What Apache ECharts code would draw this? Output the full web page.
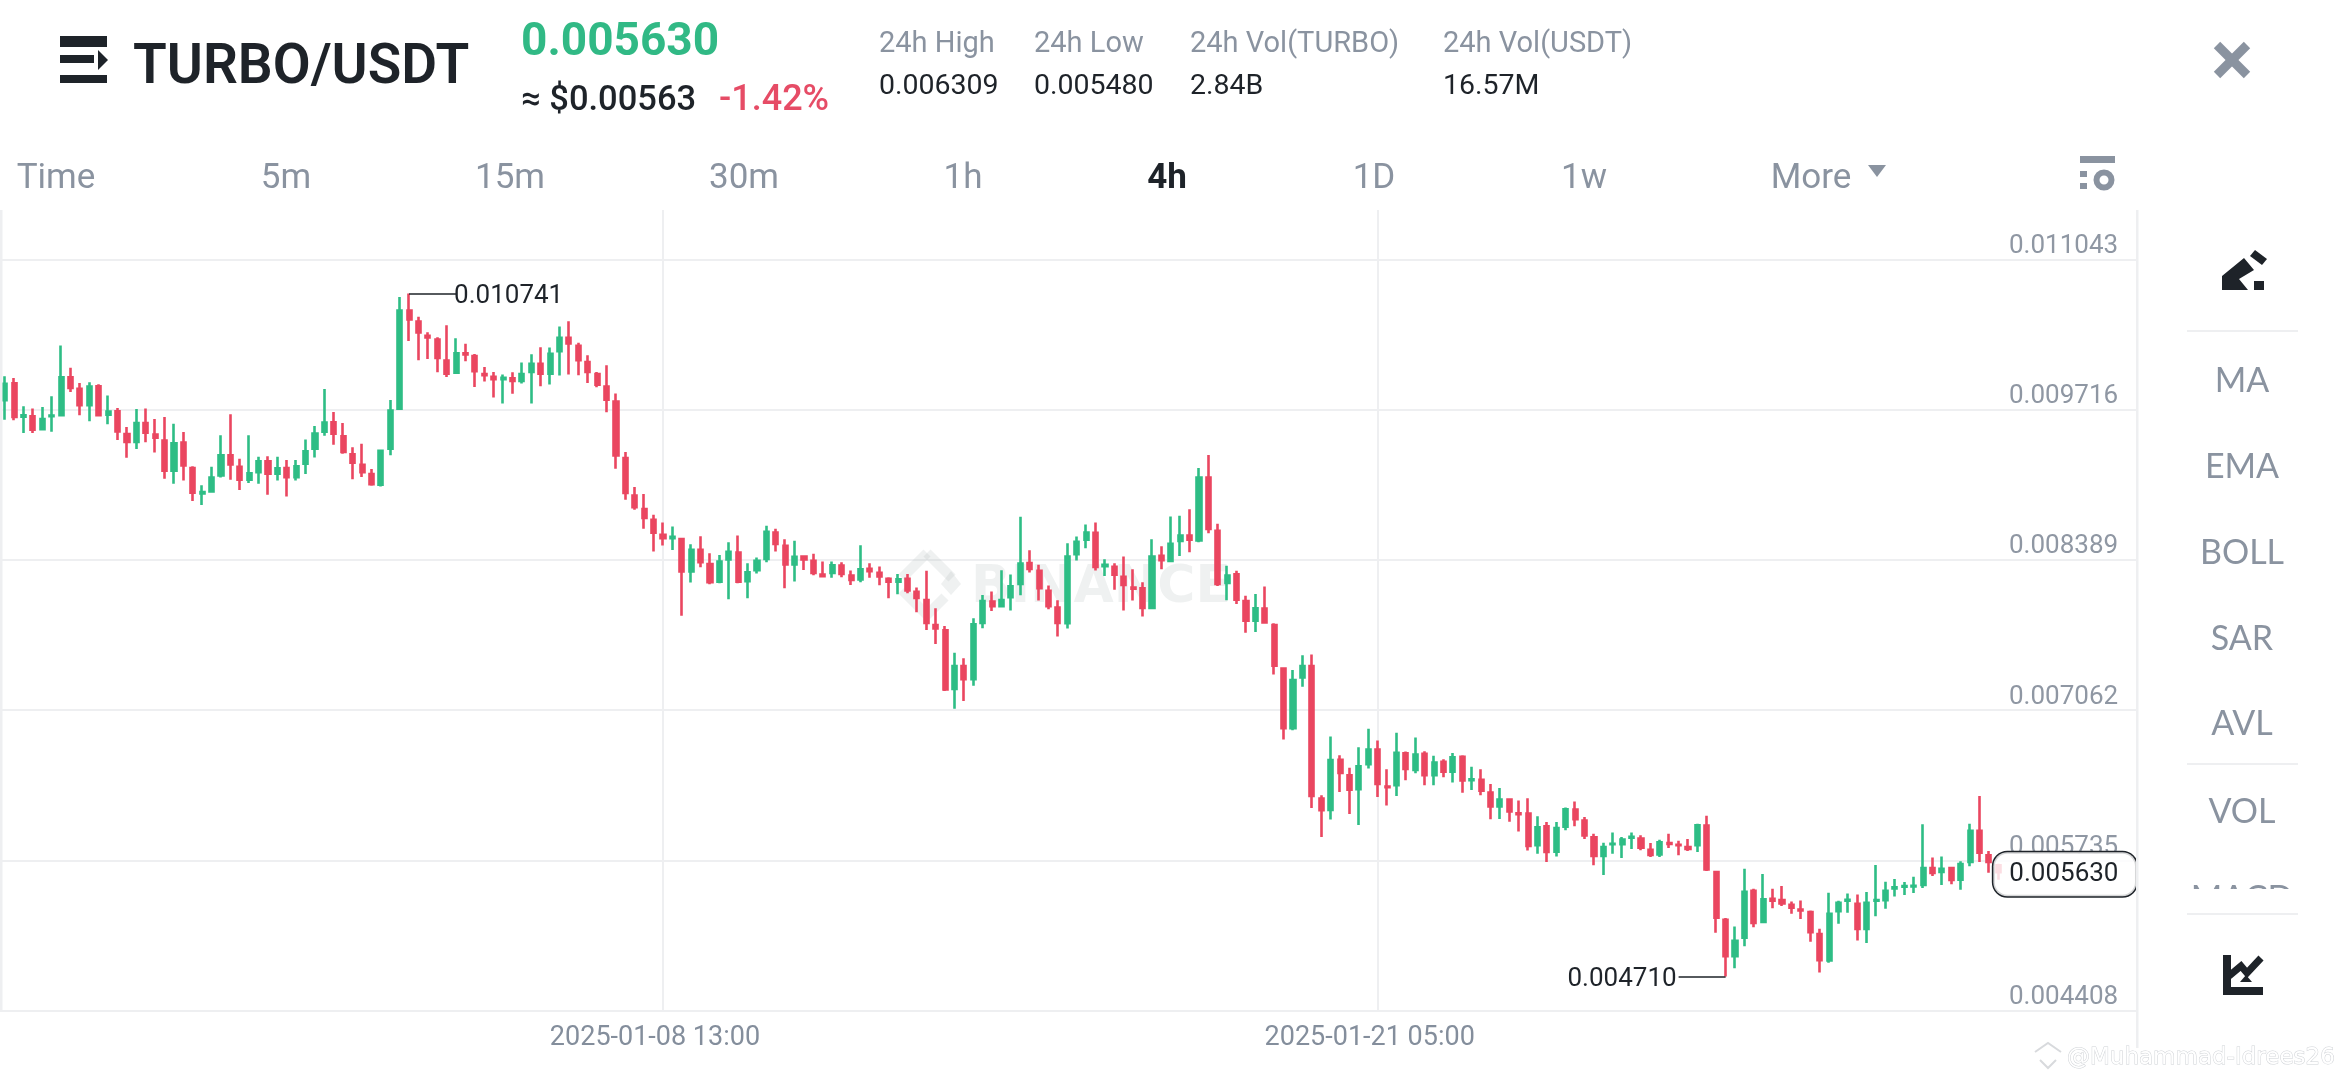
<!DOCTYPE html>
<html>
<head>
<meta charset="utf-8">
<title>TURBO/USDT</title>
<script src="https://cdn.jsdelivr.net/npm/echarts@6/dist/echarts.min.js"></script>
<style>
html, body { margin: 0; padding: 0; background: #fff; }
#main { width: 2340px; height: 1080px; }
</style>
</head>
<body>
<div id="main"></div>
<script>
// prices are kept in millionths of a USDT, 4h candles, oldest first
var opens = [
9799,9949,9654,9657,9542,9657,9666,10002,9899,9754,
9922,9672,9701,9501,9430,9598,9495,9442,9176,9424,
9200,8976,8993,9135,9312,9212,9097,9164,9259,9150,
9200,9120,9238,9371,9521,9604,9480,9321,9229,9147,
9052,9371,9725,10592,10494,10368,10335,10149,10043,10214,
10188,10031,10005,9984,9993,9970,10049,10120,10034,10232,
10350,10279,10135,10031,9919,9787,9288,8958,8837,8743,
8610,8581,8572,8286,8477,8351,8197,8392,8454,8200,
8298,8398,8631,8513,8348,8418,8380,8259,8274,8339,
8250,8215,8309,8274,8221,8197,8221,8106,8035,7814,
7767,7248,7451,7336,7832,8020,7979,8059,8177,8360,
8292,8115,7967,7829,8439,8566,8628,8333,8327,8239,
8144,8138,7964,8424,8380,8557,8604,8560,9117,8646,
8186,8262,8026,7852,7958,7814,7428,6903,7351,7451,
6280,6180,6623,6487,6363,6584,6714,6387,6398,6681,
6534,6676,6487,6605,6519,6649,6443,6446,6334,6210,
6272,6151,6148,5868,6036,5812,6033,6183,6086,5938,
5773,5877,5877,5936,5927,5829,5788,5888,5873,5853,
5868,6042,5632,5210,4888,5051,5467,5192,5396,5384,
5343,5301,5278,5083,4850,5287,5378,5352,5130,5378,
5384,5487,5502,5505,5517,5667,5632,5667,5564,5720,
5997,5779,5691];
var closes = [
9943,9651,9666,9539,9633,9663,10002,9908,9754,9919,
9666,9698,9524,9430,9598,9512,9468,9176,9418,9223,
8982,8988,9117,9312,9232,9097,9153,9259,9150,9197,
9120,9215,9347,9504,9601,9504,9341,9247,9164,9058,
9353,9707,10592,10512,10397,10353,10173,10034,10214,10203,
10055,10020,9984,9996,9970,10031,10120,10034,10208,10350,
10300,10152,10049,9937,9804,9312,8979,8855,8760,8628,
8581,8592,8286,8477,8368,8191,8374,8460,8197,8280,
8380,8637,8530,8348,8415,8392,8274,8244,8342,8265,
8212,8306,8289,8242,8197,8218,8118,8053,7832,7784,
7245,7451,7336,7820,8026,7979,8035,8156,8357,8309,
8138,7979,7832,8418,8548,8631,8327,8345,8259,8168,
8135,7964,8418,8386,8531,8604,8566,9117,8663,8177,
8250,8038,7852,7961,7837,7454,6903,7327,7451,6304,
6177,6620,6508,6360,6566,6714,6410,6381,6684,6543,
6670,6487,6599,6519,6646,6440,6451,6351,6210,6272,
6168,6142,5862,6027,5809,6021,6186,6098,5956,5773,
5853,5882,5918,5944,5847,5782,5894,5880,5868,5835,
6044,5655,5228,4888,5024,5458,5183,5390,5378,5355,
5316,5293,5101,4853,5263,5360,5387,5130,5360,5384,
5467,5496,5508,5511,5667,5623,5661,5561,5702,5997,
5803,5720,5630];
var lows = [
9627,9622,9509,9509,9533,9521,9657,9872,9666,9613,
9657,9586,9448,9291,9368,9427,9338,9105,9061,9091,
8908,8873,8985,9117,9097,9005,9067,9061,8964,9091,
8949,9091,9147,9294,9486,9406,9327,9100,9120,9044,
9038,9312,9716,10323,10152,10164,10046,10005,10034,10144,
9916,9964,9822,9769,9855,9946,9769,9922,9937,10017,
10026,10020,9952,9914,9692,9194,8920,8831,8663,8463,
8516,8477,7896,8188,8324,8174,8182,8041,8182,8050,
8268,8368,8463,8138,8197,8300,8253,8233,8230,8236,
8168,8191,8230,8165,8050,8085,8094,7926,7770,7646,
7230,7074,7142,7277,7784,7938,7970,7941,8076,8277,
8029,7952,7711,7782,8383,8492,8295,8247,8124,7941,
8029,7888,7955,8306,8371,8424,8457,8545,8625,8159,
8032,8000,7746,7752,7829,7377,6802,6885,7268,6198,
5941,6095,6339,6145,6047,6546,6295,6219,6304,6443,
6505,6398,6398,6469,6422,6331,6357,6310,6098,6101,
6077,5989,5823,5794,5720,5770,6000,6036,5924,5691,
5605,5794,5756,5835,5824,5765,5765,5844,5779,5817,
5809,5641,5095,4710,4782,4977,5145,5183,5313,5331,
5263,5216,5015,4744,4830,5175,5272,5027,5004,5242,
5307,5416,5428,5446,5490,5596,5517,5523,5475,5682,
5720,5626,5564];
var highs = [
10011,9996,9745,9725,9740,9834,10282,10085,9952,9958,
9940,9840,9731,9563,9722,9725,9633,9651,9592,9518,
9215,9049,9212,9489,9675,9282,9489,9300,9303,9300,
9271,9271,9451,9571,9899,9695,9598,9383,9415,9191,
9362,9801,10710,10741,10536,10400,10356,10462,10347,10297,
10208,10093,10049,10026,10046,10132,10205,10267,10264,10450,
10497,10306,10197,10049,10108,9858,9341,9032,8970,8787,
8719,8684,8581,8527,8598,8448,8433,8545,8604,8359,
8409,8690,8663,8572,8557,8427,8442,8374,8374,8368,
8295,8519,8360,8330,8236,8265,8265,8144,8292,7961,
7805,7569,7519,7873,8079,8109,8298,8259,8769,8474,
8345,8162,8032,8536,8595,8702,8719,8395,8360,8418,
8306,8191,8572,8510,8772,8778,8837,9200,9315,8707,
8336,8292,8073,8088,8153,7829,7436,7416,7546,7554,
6310,6829,6664,6552,6735,6897,6794,6540,6861,6696,
6820,6699,6658,6628,6684,6664,6561,6540,6410,6375,
6283,6263,6283,6124,6074,6074,6201,6254,6118,5971,
5891,5980,5941,5980,5956,5888,5918,5971,5909,5924,
6059,6130,5641,5225,5151,5661,5484,5614,5484,5508,
5372,5381,5293,5130,5449,5378,5443,5434,5455,5694,
5546,5570,5543,5590,6053,5761,5770,5676,5726,6059,
6304,5817,5705];

var yTicks = [0.004408, 0.005735, 0.007062, 0.008389, 0.009716, 0.011043];
var xTickLabels = ['2025-01-08 13:00', '2025-01-21 05:00'];
var highLabel = 0.010741, highIndex = 43;
var lowLabel = 0.004710, lowIndex = 183;
var lastPrice = 0.005630;

var statTitles = ['24h High', '24h Low', '24h Vol(TURBO)', '24h Vol(USDT)'];
var statValues = ['0.006309', '0.005480', '2.84B', '16.57M'];
var tabNames = ['Time', '5m', '15m', '30m', '1h', '4h', '1D', '1w', 'More'];
var sideNames = ['MA', 'EMA', 'BOLL', 'SAR', 'AVL', 'VOL', 'MACD'];

var GREEN = '#2ebd85', RED = '#ea4660', DARK = '#1e2329', GRAY = '#8a93a0', LINE = '#eeeff1';
var FONT = 'Roboto';

// 228 4h slots, the last ones stay empty on the right of the chart
var categories = [];
var firstTime = Date.UTC(2025, 0, 8, 13) - 70 * 4 * 3600 * 1000;
for (var c = 0; c < 228; c++) {
    var s = new Date(firstTime + c * 4 * 3600 * 1000).toISOString();
    categories.push(s.slice(0, 10) + ' ' + s.slice(11, 16));
}

var candleData = [];
for (var i = 0; i < opens.length; i++) {
    candleData.push([opens[i] / 1e6, closes[i] / 1e6, lows[i] / 1e6, highs[i] / 1e6]);
}

function text(x, y, str, size, color, weight, align, z, family) {
    return {
        type: 'text', x: x, y: y, z: z || 110,
        style: {
            text: str, fill: color, fontFamily: family || FONT, fontSize: size,
            fontWeight: weight || 400, align: align || 'left', verticalAlign: 'middle'
        }
    };
}
function rect(x, y, w, h, color, z) {
    return { type: 'rect', z: z || 110, shape: { x: x, y: y, width: w, height: h }, style: { fill: color } };
}
function poly(points, color, z) {
    return { type: 'polygon', z: z || 110, shape: { points: points }, style: { fill: color } };
}
function line(points, color, width, z) {
    return { type: 'polyline', z: z || 110, shape: { points: points }, style: { stroke: color, lineWidth: width, fill: null } };
}

var graphics = [];
// right panel covers the spare part of the grid
graphics.push(rect(2138, 200, 202, 880, '#fff', 100));
graphics.push(rect(0, 210, 2.5, 800, LINE, 100));
graphics.push(rect(2136, 210, 2.5, 838, LINE, 101));

// header
graphics.push(rect(60, 36, 47, 11, DARK), rect(60, 75, 47, 8, DARK), rect(60, 55, 34, 8, DARK));
graphics.push(poly([[98, 50], [108, 60], [98, 70]], DARK));
graphics.push(text(133, 69, 'TURBO/USDT', 55, DARK, 600));
graphics.push(text(521, 43, '0.005630', 46, '#31b985', 700));
graphics.push(text(521, 101, '≈ $0.00563', 34.5, DARK, 500));
graphics.push(text(719, 101, '-1.42%', 36, '#e64c66', 500));
var statX = [879, 1034, 1190, 1443];
for (var t = 0; t < statTitles.length; t++) {
    graphics.push(text(statX[t], 45, statTitles[t], 29, GRAY));
    graphics.push(text(statX[t], 87, statValues[t], 28.5, DARK));
}
graphics.push(line([[2217, 45], [2247, 75]], GRAY, 9), line([[2247, 45], [2217, 75]], GRAY, 9));

// period tabs
var tabX = [56, 286, 510, 744, 963, 1167, 1374, 1584, 1811];
for (var n = 0; n < tabNames.length; n++) {
    var on = tabNames[n] === '4h';
    graphics.push(text(tabX[n], 179, tabNames[n], 35, on ? DARK : GRAY, on ? 700 : 400, 'center'));
}
graphics.push(poly([[1868, 165], [1886, 165], [1877, 177]], GRAY));
graphics.push(rect(2080, 156, 35, 7, GRAY), rect(2080, 171, 7, 6, GRAY), rect(2080, 183, 7, 6, GRAY));
graphics.push({ type: 'circle', z: 110, shape: { cx: 2104, cy: 180, r: 7.5 }, style: { fill: 'none', stroke: GRAY, lineWidth: 6 } });

// side panel
graphics.push(poly([[2222, 290], [2222, 276], [2244, 258], [2254, 270], [2239, 279], [2248, 290]], DARK));
graphics.push(poly([[2250, 256], [2255, 250], [2267, 259], [2262, 265]], DARK), rect(2254, 281, 10, 9, DARK));
var sideY = [381, 467, 553, 639, 724, 812, 899];
for (var k = 0; k < sideNames.length; k++) {
    graphics.push(text(2242, sideY[k], sideNames[k], 34, GRAY, 400, 'center', 110, 'Lato'));
}
graphics.push(rect(2160, 889, 170, 24, '#fff', 111));
graphics.push(rect(2187, 330, 111, 2, LINE), rect(2187, 763, 111, 2, LINE), rect(2187, 913, 111, 2, LINE));
graphics.push(poly([[2223, 955], [2231, 955], [2231, 987], [2263, 987], [2263, 995], [2223, 995]], DARK));
graphics.push(line([[2229, 976], [2241, 966], [2247, 973], [2261, 958]], DARK, 7));
graphics.push(poly([[2240, 982], [2246, 975], [2252, 982]], DARK));

// Binance watermark, under the candles
var wm = 'rgba(175,185,185,0.2)';
graphics.push(line([[927, 553], [952, 578]], wm, 10, 1), line([[927, 553], [902, 578]], wm, 10, 1));
graphics.push(line([[902, 590], [927, 615], [945, 597]], wm, 10, 1));
graphics.push(poly([[951, 571], [961, 584], [951, 595], [941, 584]], wm, 1));
graphics.push(text(971, 588, 'BINANCE', 52, wm, 700, 'left', 1, 'DejaVu Sans'));

// post author tag
graphics.push(line([[2035, 1052], [2048, 1043], [2061, 1052]], '#d8dadd', 2));
graphics.push(line([[2040, 1060], [2048, 1068], [2056, 1060]], '#d8dadd', 2));
graphics.push({
    type: 'text', x: 2067, y: 1058, z: 112,
    style: { text: '@Muhammad-Idrees26', fontFamily: 'DejaVu Sans', fontSize: 23, fill: '#fff', stroke: '#cfd2d6', lineWidth: 1, verticalAlign: 'middle' }
});

var myChart = echarts.init(document.getElementById('main'), null, { renderer: 'canvas' });
var option = {
    animation: false,
    backgroundColor: '#fff',
    textStyle: { fontFamily: FONT },
    grid: { left: -1.4, top: 210, width: 2145.5, height: 800.6, containLabel: false },
    xAxis: {
        type: 'category',
        data: categories,
        boundaryGap: true,
        axisLine: { show: false },
        axisTick: { show: false },
        axisLabel: {
            color: '#848e9c', fontSize: 27, margin: 14, padding: [0, 16, 0, 0], hideOverlap: false,
            interval: function (index, value) { return xTickLabels.indexOf(value) >= 0; }
        },
        splitLine: {
            show: true,
            alignWithLabel: true,
            lineStyle: { color: LINE, width: 2 },
            interval: function (index, value) { return xTickLabels.indexOf(value) >= 0; }
        }
    },
    yAxis: {
        type: 'value',
        position: 'right',
        min: 0.004408,
        max: 0.011479,
        scale: true,
        axisLine: { show: false },
        axisTick: { show: false, customValues: yTicks },
        axisLabel: {
            inside: true,
            customValues: yTicks,
            color: '#8f97a3',
            fontSize: 26,
            margin: 26,
            verticalAlign: 'bottom',
            padding: 0,
            formatter: function (v) { return v.toFixed(6); }
        },
        splitLine: { show: true, lineStyle: { color: LINE, width: 2 } }
    },
    graphic: graphics,
    series: [{
        type: 'candlestick',
        data: candleData,
        barWidth: 4.6,
        clip: false,
        itemStyle: { color: GREEN, color0: RED, borderColor: GREEN, borderColor0: RED, borderWidth: 2.6 },
        markLine: {
            silent: true,
            symbol: ['none', 'none'],
            animation: false,
            label: { show: false },
            lineStyle: { color: DARK, width: 1.5, type: 'solid' },
            data: [
                [{ coord: [categories[highIndex], highLabel] }, { coord: [categories[highIndex + 5], highLabel] }],
                [{ coord: [categories[lowIndex], lowLabel] }, { coord: [categories[lowIndex - 5], lowLabel] }]
            ]
        },
        markPoint: {
            silent: true,
            symbol: 'circle',
            symbolSize: 0,
            animation: false,
            data: [
                { coord: [categories[highIndex], highLabel], label: { show: true, position: 'right', distance: 45, offset: [0, 3], color: DARK, fontSize: 26, formatter: highLabel.toFixed(6) } },
                { coord: [categories[lowIndex], lowLabel], label: { show: true, position: 'left', distance: 49, offset: [0, 3], color: DARK, fontSize: 26, formatter: lowLabel.toFixed(6) } },
                {
                    coord: [categories[opens.length - 1], lastPrice],
                    label: {
                        show: true, position: [-5, -20], align: 'left', verticalAlign: 'top', color: DARK, fontSize: 26,
                        formatter: lastPrice.toFixed(6), backgroundColor: 'rgba(255,255,255,0.82)',
                        borderColor: DARK, borderWidth: 1.5, borderRadius: 14, padding: [9, 18, 9, 16]
                    }
                }
            ]
        }
    }]
};
myChart.setOption(option);
</script>
</body>
</html>
